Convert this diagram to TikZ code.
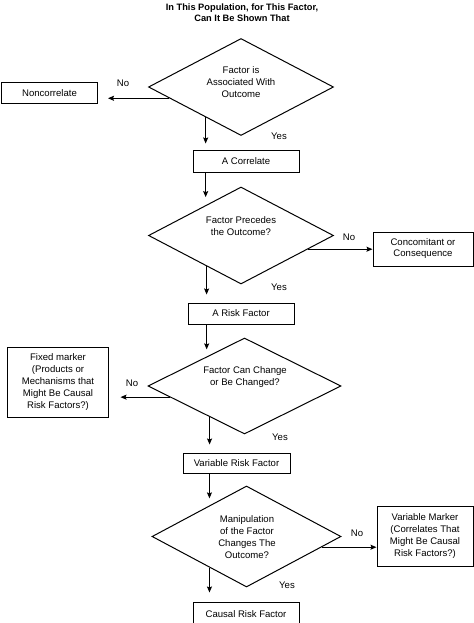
\documentclass[tikz,border=0pt]{standalone}
\usepackage{fontspec}
\setmainfont{Liberation Sans}
\usetikzlibrary{arrows,arrows.meta,shapes.geometric,calc}

\begin{document}
\begin{tikzpicture}[>={Stealth[length=6bp, width=5bp, inset=1bp]}, x=1bp, y=-1bp, line width=1bp]
			\tikzstyle{question} = [draw, diamond, inner sep=0pt]
			\tikzstyle{square} = [draw, align=center, inner sep=2pt, font=\fontsize{9.6}{12}\selectfont]
			\tikzstyle{words} = [align=center, font=\fontsize{9.6}{12}\selectfont]
			\tikzstyle{answer} = [font=\fontsize{9.6}{12}\selectfont]
			\useasboundingbox (0,0) rectangle (474,623);
			\begin{scope}
			\path
			node[font=\bfseries\fontsize{9.3}{11.5}\selectfont, align=center] (title) at (242,12.5) {In This Population, for This Factor,\\Can It Be Shown That}

			node[question, minimum width=185bp, minimum height=97bp] (q1) at (241,87) {}
			node[question, minimum width=185bp, minimum height=97bp] (q2) at (241,235.5) {}
			node[question, minimum width=193bp, minimum height=96bp] (q3) at (244.5,386) {}
			node[question, minimum width=189bp, minimum height=101bp] (q4) at (246.5,536.5) {}

			node[words] (q1t) at (241,82) {Factor is\\Associated With\\Outcome}
			node[words] (q2t) at (241,226) {Factor Precedes\\the Outcome?}
			node[words] (q3t) at (245,377) {Factor Can Change\\or Be Changed?}
			node[words] (q4t) at (247,537.5) {Manipulation\\of the Factor\\Changes The\\Outcome?}

			node[square, minimum width=96bp, minimum height=21bp] (b0) at (49.5,93.5) {Noncorrelate}
			node[square, minimum width=106bp, minimum height=21bp] (b1) at (246,161.5) {A Correlate}
			node[square, minimum width=100bp, minimum height=34bp, font=\fontsize{9.6}{11}\selectfont] (b2) at (423,249) {Concomitant or\\Consequence}
			node[square, minimum width=106bp, minimum height=21bp] (b3) at (241,313.5) {A Risk Factor}
			node[square, minimum width=100bp, minimum height=70bp] (b4) at (58,382) {Fixed marker\\(Products or\\Mechanisms that\\Might Be Causal\\Risk Factors?)}
			node[square, minimum width=107bp, minimum height=20bp] (b5) at (236.5,463) {Variable Risk Factor}
			node[square, minimum width=96bp, minimum height=60bp] (b6) at (425,536) {Variable Marker\\(Correlates That\\Might Be Causal\\Risk Factors?)}
			node[square, minimum width=106bp, minimum height=24bp] (b7) at (246,614) {Causal Risk Factor}

			node[answer] (no1) at (123,83) {No}
			node[answer] (no2) at (349,237) {No}
			node[answer] (no3) at (132,383) {No}
			node[answer] (no4) at (357,533) {No}
			node[answer] (yes1) at (279,136) {Yes}
			node[answer] (yes2) at (279,287) {Yes}
			node[answer] (yes3) at (280,437) {Yes}
			node[answer] (yes4) at (287,585) {Yes}
			;

			% where the arrows leave or meet the diamonds
			\coordinate (n1) at ($(q1.west)!.23!(q1.south)$);
			\coordinate (n2) at ($(q2.east)!.28!(q2.south)$);
			\coordinate (n3) at ($(q3.west)!.23!(q3.south)$);
			\coordinate (n4) at ($(q4.east)!.21!(q4.south)$);
			\coordinate (y1) at ($(q1.south)!.38!(q1.west)$);
			\coordinate (y2) at ($(q2.north)!.38!(q2.west)$);
			\coordinate (y3) at ($(q2.south)!.37!(q2.west)$);
			\coordinate (y4) at ($(q3.north)!.39!(q3.west)$);
			\coordinate (y5) at ($(q3.south)!.36!(q3.west)$);
			\coordinate (y6) at ($(q4.north)!.39!(q4.west)$);
			\coordinate (y7) at ($(q4.south)!.39!(q4.west)$);

			\path[->]
			(n1) edge[shorten >=10bp] (n1 -| b0.east)
			(n2) edge (n2 -| b2.west)
			(n3) edge[shorten >=12bp] (n3 -| b4.east)
			(n4) edge (n4 -| b6.west)

			(y1) edge[shorten >=7bp] (y1 |- b1.north)
			(y2 |- b1.south) edge[shorten >=8bp] (y2)
			(y3) edge[shorten >=8bp] (y3 |- b3.north)
			(y4 |- b3.south) edge[shorten >=7bp] (y4)
			(y5) edge[shorten >=8bp] (y5 |- b5.north)
			(y6 |- b5.south) edge[shorten >=7bp] (y6)
			(y7) edge[shorten >=9bp] (y7 |- b7.north)
			;
			\end{scope}
\end{tikzpicture}
\end{document}
